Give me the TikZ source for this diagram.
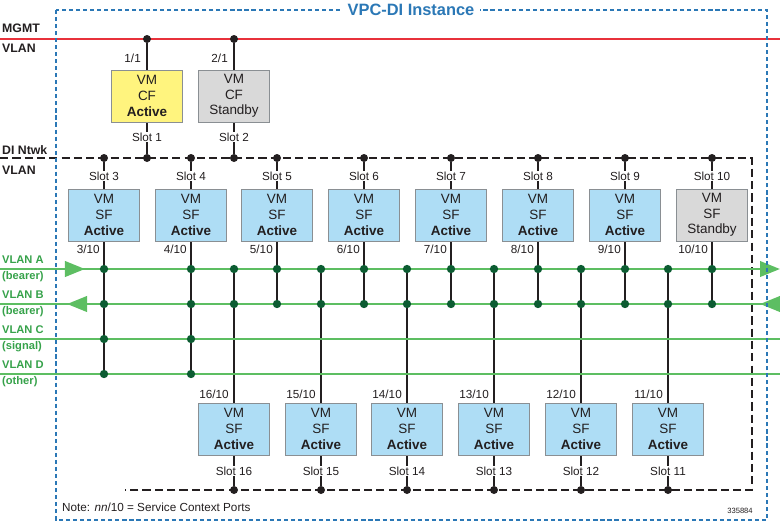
\documentclass[tikz,border=0pt]{standalone}
\usepackage{fontspec}
\setmainfont{Liberation Sans}
\usetikzlibrary{arrows.meta, backgrounds}
\definecolor{vmblue}{HTML}{AEDDF5}
\definecolor{cfyellow}{HTML}{FFF47E}
\definecolor{stbygray}{HTML}{D9D9D9}
\definecolor{boxedge}{HTML}{8A8F93}
\definecolor{ink}{HTML}{231F20}
\definecolor{mgmtred}{HTML}{E8313B}
\definecolor{vlangreen}{HTML}{5DBE62}
\definecolor{dotgreen}{HTML}{0C5C32}
\definecolor{labelgreen}{HTML}{36A24A}
\definecolor{vpcblue}{HTML}{2B78B6}

\begin{document}
\begin{tikzpicture}[
    x=0.03cm, y=-0.03cm,
    every node/.style={font=\fontsize{10}{12}\selectfont, text=ink},
    % VM box
    vm/.style={rectangle, draw=boxedge, line width=0.8pt, fill=vmblue,
               minimum width=2.13cm, minimum height=1.56cm, inner sep=0pt,
               align=center, font=\fontsize{11.5}{13.4}\selectfont},
    % Slot and port texts
    slotlbl/.style={fill=white, inner sep=1pt},
    portlbl/.style={anchor=east, inner sep=0pt},
    % Left hand network labels
    netlbl/.style={anchor=west, align=left, inner sep=0pt,
                   font=\fontsize{10.5}{17}\selectfont\bfseries},
    vlanlbl/.style={anchor=west, align=left, inner sep=0pt, text=labelgreen,
                    font=\fontsize{9.5}{13.5}\selectfont\bfseries},
    % Junction dots
    bdot/.style={circle, fill=ink, inner sep=0pt, minimum size=2.4mm},
    gdot/.style={circle, fill=dotgreen, inner sep=0pt, minimum size=2.5mm},
    % Wires
    wire/.style={line width=1.4pt, draw=ink},
    mgmt/.style={line width=1.4pt, draw=mgmtred},
    ditwk/.style={line width=2.3pt, draw=ink, dash pattern=on 7pt off 3.5pt},
    vpc/.style={line width=1.4pt, draw=vpcblue, dash pattern=on 3.5pt off 2.5pt},
    vlan/.style={line width=2.4pt, draw=vlangreen},
    gtip/.style={vlan, -{Triangle[length=6mm, width=4.6mm]}}
]
\useasboundingbox (0,0) rectangle (780,522);

% ---------- Frame ----------
\coordinate (frame-nw) at (56, 10);
\coordinate (frame-se) at (767, 520);
\draw[vpc] (frame-nw) rectangle (frame-se);
\node[font=\fontsize{14}{16}\selectfont\bfseries, text=vpcblue, fill=white,
      inner xsep=5pt, inner ysep=1pt] (title) at (411, 10) {VPC-DI Instance};

% ---------- Network labels ----------
\node[netlbl] (mgmt-lbl) at (2, 38) {MGMT\\VLAN};
\node[netlbl] (di-lbl) at (2, 160) {DI Ntwk\\VLAN};
\node[vlanlbl] (va-lbl) at (2, 269) {VLAN A\\(bearer)};
\node[vlanlbl] (vb-lbl) at (2, 304) {VLAN B\\(bearer)};
\node[vlanlbl] (vc-lbl) at (2, 339) {VLAN C\\(signal)};
\node[vlanlbl] (vd-lbl) at (2, 374) {VLAN D\\(other)};

% ---------- Line end points ----------
\coordinate (mg-w) at (0, 39);    \coordinate (mg-e) at (780, 39);
\coordinate (di-w) at (0, 158);   \coordinate (di-ne) at (752, 158);
\coordinate (di-se) at (752, 490); \coordinate (di-sw) at (125, 490);
\coordinate (va-w) at (0, 269);   \coordinate (va-e) at (780, 269);
\coordinate (va-l) at (85, 269);
\coordinate (vb-w) at (0, 304);   \coordinate (vb-e) at (780, 304);
\coordinate (vb-l) at (67, 304);  \coordinate (vb-r) at (760, 304);
\coordinate (vc-w) at (0, 339);   \coordinate (vc-e) at (780, 339);
\coordinate (vd-w) at (0, 374);   \coordinate (vd-e) at (780, 374);

% ---------- CF boxes ----------
\node[vm, fill=cfyellow] (cf1) at (147, 96) {VM\\CF\\\textbf{Active}};
\node[vm, fill=stbygray] (cf2) at (234, 96) {VM\\CF\\Standby};
\node[bdot] (m1) at (147, 39) {};
\node[bdot] (m2) at (234, 39) {};
\node[bdot] (t1) at (147, 158) {};
\node[bdot] (t2) at (234, 158) {};
\node[portlbl] at (141, 58) {1/1};
\node[portlbl] at (228, 58) {2/1};

% ---------- SF boxes, top row ----------
\node[vm] (sf3) at (104, 215) {VM\\SF\\\textbf{Active}};
\node[vm] (sf4) at (191, 215) {VM\\SF\\\textbf{Active}};
\node[vm] (sf5) at (277, 215) {VM\\SF\\\textbf{Active}};
\node[vm] (sf6) at (364, 215) {VM\\SF\\\textbf{Active}};
\node[vm] (sf7) at (451, 215) {VM\\SF\\\textbf{Active}};
\node[vm] (sf8) at (538, 215) {VM\\SF\\\textbf{Active}};
\node[vm] (sf9) at (625, 215) {VM\\SF\\\textbf{Active}};
\node[vm, fill=stbygray] (sf10) at (712, 215) {VM\\SF\\Standby};

% DI dots
\node[bdot] (t3) at (104, 158) {};
\node[bdot] (t4) at (191, 158) {};
\node[bdot] (t5) at (277, 158) {};
\node[bdot] (t6) at (364, 158) {};
\node[bdot] (t7) at (451, 158) {};
\node[bdot] (t8) at (538, 158) {};
\node[bdot] (t9) at (625, 158) {};
\node[bdot] (t10) at (712, 158) {};

% Port labels
\node[portlbl] at (100, 249) {3/10};
\node[portlbl] at (187, 249) {4/10};
\node[portlbl] at (273, 249) {5/10};
\node[portlbl] at (360, 249) {6/10};
\node[portlbl] at (447, 249) {7/10};
\node[portlbl] at (534, 249) {8/10};
\node[portlbl] at (621, 249) {9/10};
\node[portlbl] at (708, 249) {10/10};

% VLAN dots
\node[gdot] (a3) at (104, 269) {};  \node[gdot] (b3) at (104, 304) {};
\node[gdot] (c3) at (104, 339) {};  \node[gdot] (d3) at (104, 374) {};
\node[gdot] (a4) at (191, 269) {};  \node[gdot] (b4) at (191, 304) {};
\node[gdot] (c4) at (191, 339) {};  \node[gdot] (d4) at (191, 374) {};
\node[gdot] (a5) at (277, 269) {};  \node[gdot] (b5) at (277, 304) {};
\node[gdot] (a6) at (364, 269) {};  \node[gdot] (b6) at (364, 304) {};
\node[gdot] (a7) at (451, 269) {};  \node[gdot] (b7) at (451, 304) {};
\node[gdot] (a8) at (538, 269) {};  \node[gdot] (b8) at (538, 304) {};
\node[gdot] (a9) at (625, 269) {};  \node[gdot] (b9) at (625, 304) {};
\node[gdot] (a10) at (712, 269) {}; \node[gdot] (b10) at (712, 304) {};

% ---------- SF boxes, bottom row ----------
\node[vm] (sf16) at (234, 429) {VM\\SF\\\textbf{Active}};
\node[vm] (sf15) at (321, 429) {VM\\SF\\\textbf{Active}};
\node[vm] (sf14) at (407, 429) {VM\\SF\\\textbf{Active}};
\node[vm] (sf13) at (494, 429) {VM\\SF\\\textbf{Active}};
\node[vm] (sf12) at (581, 429) {VM\\SF\\\textbf{Active}};
\node[vm] (sf11) at (668, 429) {VM\\SF\\\textbf{Active}};

\node[gdot] (a16) at (234, 269) {}; \node[gdot] (b16) at (234, 304) {};
\node[gdot] (a15) at (321, 269) {}; \node[gdot] (b15) at (321, 304) {};
\node[gdot] (a14) at (407, 269) {}; \node[gdot] (b14) at (407, 304) {};
\node[gdot] (a13) at (494, 269) {}; \node[gdot] (b13) at (494, 304) {};
\node[gdot] (a12) at (581, 269) {}; \node[gdot] (b12) at (581, 304) {};
\node[gdot] (a11) at (668, 269) {}; \node[gdot] (b11) at (668, 304) {};

\node[bdot] (e16) at (234, 490) {};
\node[bdot] (e15) at (321, 490) {};
\node[bdot] (e14) at (407, 490) {};
\node[bdot] (e13) at (494, 490) {};
\node[bdot] (e12) at (581, 490) {};
\node[bdot] (e11) at (668, 490) {};

\node[portlbl] at (229, 394) {16/10};
\node[portlbl] at (316, 394) {15/10};
\node[portlbl] at (402, 394) {14/10};
\node[portlbl] at (489, 394) {13/10};
\node[portlbl] at (576, 394) {12/10};
\node[portlbl] at (663, 394) {11/10};

% ---------- Wires ----------
\begin{scope}[on background layer]
\draw[mgmt] (mg-w) -- (mg-e);
\draw[ditwk] (di-w) -- (di-ne) -- (di-se) -- (di-sw);
% CF
\draw[wire] (m1) -- (cf1) -- (t1);
\draw[wire] (m2) -- (cf2) -- (t2);
% top row
\draw[wire] (t3) -- (sf3) -- (a3) -- (b3) -- (c3) -- (d3);
\draw[wire] (t4) -- (sf4) -- (a4) -- (b4) -- (c4) -- (d4);
\draw[wire] (t5) -- (sf5) -- (a5) -- (b5);
\draw[wire] (t6) -- (sf6) -- (a6) -- (b6);
\draw[wire] (t7) -- (sf7) -- (a7) -- (b7);
\draw[wire] (t8) -- (sf8) -- (a8) -- (b8);
\draw[wire] (t9) -- (sf9) -- (a9) -- (b9);
\draw[wire] (t10) -- (sf10) -- (a10) -- (b10);
% bottom row
\draw[wire] (a16) -- (b16) -- (sf16) -- (e16);
\draw[wire] (a15) -- (b15) -- (sf15) -- (e15);
\draw[wire] (a14) -- (b14) -- (sf14) -- (e14);
\draw[wire] (a13) -- (b13) -- (sf13) -- (e13);
\draw[wire] (a12) -- (b12) -- (sf12) -- (e12);
\draw[wire] (a11) -- (b11) -- (sf11) -- (e11);
% VLANs
\draw[gtip] (va-w) -- (va-e);
\draw[gtip] (va-w) -- (va-l);
\draw[vlan] (vb-w) -- (vb-e);
\draw[gtip] (vb-e) -- (vb-l);
\draw[gtip] (vb-e) -- (vb-r);
\draw[vlan] (vc-w) -- (vc-e);
\draw[vlan] (vd-w) -- (vd-e);
\end{scope}

% ---------- Slot labels ----------
\node[slotlbl] at (147, 137) {Slot 1};
\node[slotlbl] at (234, 137) {Slot 2};
\node[slotlbl] at (104, 176) {Slot 3};
\node[slotlbl] at (191, 176) {Slot 4};
\node[slotlbl] at (277, 176) {Slot 5};
\node[slotlbl] at (364, 176) {Slot 6};
\node[slotlbl] at (451, 176) {Slot 7};
\node[slotlbl] at (538, 176) {Slot 8};
\node[slotlbl] at (625, 176) {Slot 9};
\node[slotlbl] at (712, 176) {Slot 10};
\node[slotlbl] at (234, 471) {Slot 16};
\node[slotlbl] at (321, 471) {Slot 15};
\node[slotlbl] at (407, 471) {Slot 14};
\node[slotlbl] at (494, 471) {Slot 13};
\node[slotlbl] at (581, 471) {Slot 12};
\node[slotlbl] at (668, 471) {Slot 11};

% ---------- Footer ----------
\node[anchor=west, inner sep=0pt] (note) at (62, 507) {Note: \textit{nn}/10 = Service Context Ports};
\node[font=\fontsize{6.5}{8}\selectfont] (figno) at (740, 511) {335884};

\end{tikzpicture}
\end{document}
